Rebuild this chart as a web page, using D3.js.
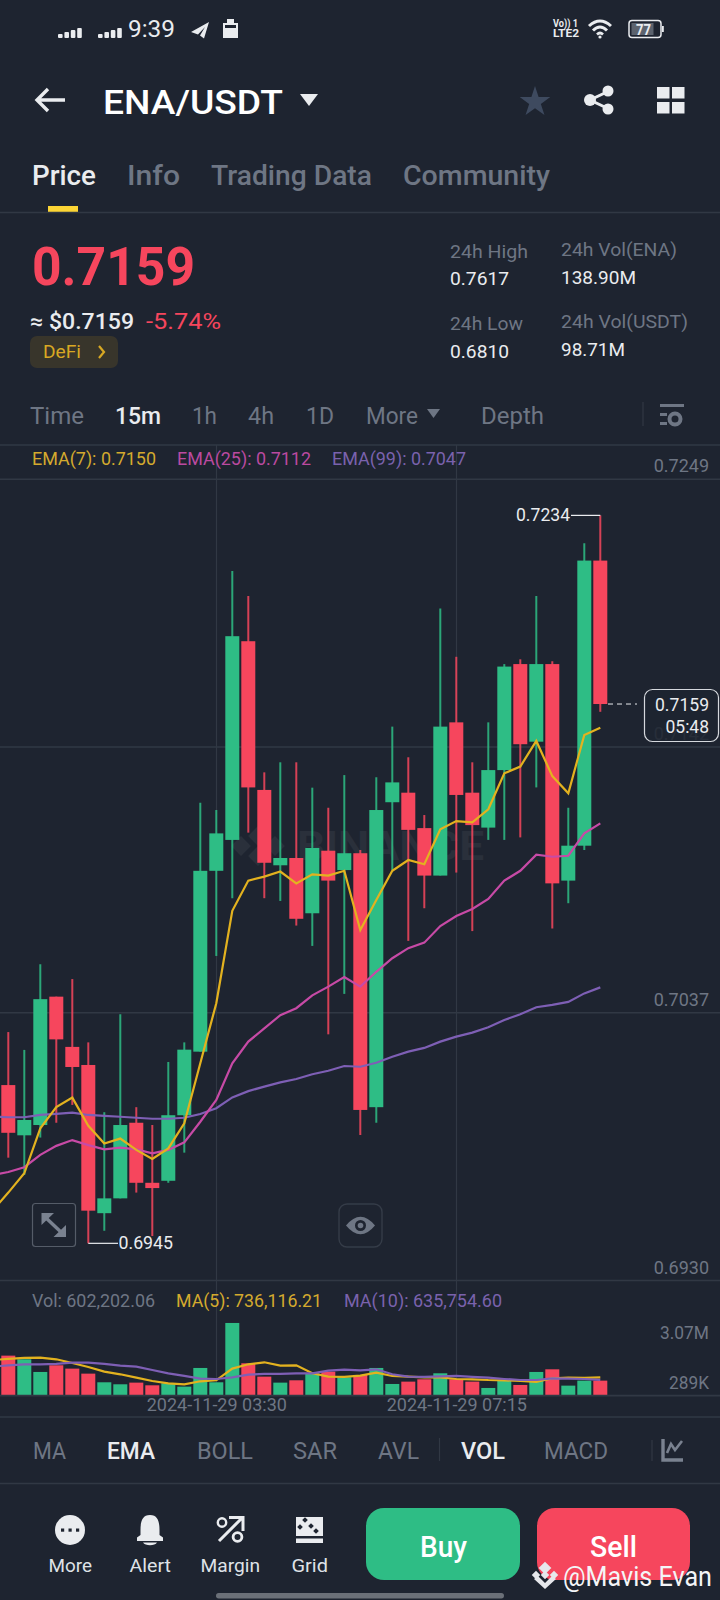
<!DOCTYPE html>
<html>
<head>
<meta charset="utf-8">
<script src="https://cdn.jsdelivr.net/npm/d3@7/dist/d3.min.js"></script>
<style>
  html, body { margin: 0; padding: 0; background: #1e2430; }
  svg { display: block; font-family: Roboto, sans-serif; }
</style>
</head>
<body>
<script>
// 15m candles, oldest first
const opens = [0.70076,0.69876,0.69917,0.70428,0.70228,0.70156,0.69566,0.69625,0.69926,0.69687,0.69695,0.69956,0.70209,0.70929,0.71052,0.71843,0.71251,0.70951,0.70980,0.70760,0.71009,0.70932,0.70999,0.69988,0.71202,0.71240,0.71099,0.70910,0.71520,0.71240,0.71101,0.71330,0.71752,0.71443,0.71752,0.70890,0.71029,0.72164];
const closes = [0.69886,0.69937,0.70418,0.70258,0.70148,0.69576,0.69625,0.69917,0.69687,0.69666,0.69956,0.70217,0.70929,0.71078,0.71863,0.71261,0.70961,0.70980,0.70738,0.71020,0.70890,0.70999,0.69977,0.71171,0.71281,0.71092,0.70910,0.71503,0.71231,0.71111,0.71330,0.71742,0.71433,0.71752,0.70879,0.71029,0.72164,0.71593];
const highs = [0.70287,0.70216,0.70557,0.70428,0.70498,0.70246,0.69968,0.70358,0.69988,0.69917,0.70168,0.70246,0.71200,0.71171,0.72123,0.72023,0.71321,0.71361,0.71361,0.71260,0.71180,0.71310,0.71012,0.71301,0.71503,0.71381,0.71151,0.71973,0.71781,0.71361,0.71520,0.71752,0.71771,0.72023,0.71763,0.71180,0.72233,0.72344];
const lows = [0.69787,0.69718,0.69867,0.69926,0.69997,0.69446,0.69496,0.69625,0.69648,0.69475,0.69687,0.69807,0.70209,0.70590,0.70820,0.71081,0.70820,0.70809,0.70711,0.70630,0.70278,0.70439,0.69877,0.69926,0.70932,0.70650,0.70780,0.70910,0.70922,0.70689,0.71052,0.71052,0.71062,0.71261,0.70699,0.70800,0.71012,0.71562];
const volumes = [1628000,1478000,958000,1231000,1095000,889000,534000,452000,520000,410000,493000,356000,1122000,534000,2969000,1314000,766000,520000,616000,903000,971000,739000,835000,1122000,465000,561000,657000,903000,657000,561000,301000,602000,424000,958000,1067000,397000,602000,602202];

// moving averages start one candle earlier, off the left edge
const ema7 = [0.69575,0.69648,0.69725,0.69904,0.69988,0.70026,0.69914,0.69843,0.69863,0.69818,0.69782,0.69824,0.69924,0.70163,0.70402,0.70770,0.70890,0.70906,0.70926,0.70879,0.70915,0.70910,0.70929,0.70693,0.70813,0.70929,0.70972,0.70955,0.71094,0.71127,0.71122,0.71174,0.71317,0.71344,0.71446,0.71306,0.71238,0.71470,0.71499];
const ema25 = [0.69718,0.69730,0.69749,0.69798,0.69834,0.69857,0.69837,0.69820,0.69827,0.69820,0.69804,0.69818,0.69848,0.69930,0.70017,0.70163,0.70249,0.70302,0.70354,0.70382,0.70433,0.70468,0.70506,0.70468,0.70527,0.70581,0.70621,0.70643,0.70709,0.70749,0.70777,0.70817,0.70890,0.70929,0.70993,0.70985,0.70989,0.71078,0.71118];
const ema99 = [0.69950,0.69948,0.69948,0.69957,0.69961,0.69966,0.69957,0.69953,0.69950,0.69946,0.69942,0.69942,0.69946,0.69961,0.69984,0.70027,0.70052,0.70070,0.70087,0.70100,0.70119,0.70133,0.70152,0.70149,0.70165,0.70189,0.70209,0.70224,0.70249,0.70269,0.70285,0.70306,0.70335,0.70358,0.70386,0.70395,0.70407,0.70441,0.70465];
const volMa5 = [1450,1491,1532,1546,1478,1327,1163,971,862,725,588,493,452,575,616,1095,1273,1355,1218,1231,903,766,753,807,930,794,766,739,739,670,657,629,616,588,547,698,725,712,736].map(d => d * 1000);
const volMa10 = [1177,1231,1273,1273,1286,1341,1341,1286,1218,1177,1040,903,794,684,670,739,848,876,876,903,903,1013,1054,1026,1067,862,766,753,780,794,753,725,670,629,629,698,684,670,636].map(d => d * 1000);

const priceTicks = [0.72490, 0.71424, 0.70366, 0.69300];
const dateTicks = [13, 28];
const dateLabels = {13: "2024-11-29 03:30", 28: "2024-11-29 07:15"};
const lastPrice = 0.71593;
const highMark = 0.72344, lowMark = 0.69446;
const volMax = 3070000;

const BG = "#1e2430", GREEN = "#2ebd85", RED = "#f6465d", LINE = "#313844";
const GREY = "#6e7684", WHITE = "#eaecef";
const YELLOW = "#e3b21f", PINK = "#c74aa6", PURPLE = "#7e5fb5";

const candles = opens.map((o, i) => ({i, o, c: closes[i], h: highs[i], l: lows[i], v: volumes[i]}));

const x = d3.scaleLinear().domain([0, 37]).range([8.3, 600.3]);
const y = d3.scaleLinear().domain([0.6930, 0.7249]).range([1280, 478.7]);
const yVol = d3.scaleLinear().domain([0, volMax]).range([1395.3, 1320.5]);
const bodyW = 14;
const color = d => d.c >= d.o ? GREEN : RED;

const svg = d3.select("body").append("svg").attr("width", 720).attr("height", 1600);
svg.append("rect").attr("width", 720).attr("height", 1600).attr("fill", BG);

// text helper, x0/x1 pin the width the label has in the screenshot
function txt(t, x0, x1, base, size, fill, weight) {
  const el = svg.append("text").attr("x", x0).attr("y", base).attr("font-size", size)
    .attr("fill", fill).attr("font-weight", weight || 400).text(t);
  if (x1) el.attr("textLength", x1 - x0).attr("lengthAdjust", "spacingAndGlyphs");
  return el;
}
function hline(yy, x0, x1, w) {
  svg.append("line").attr("x1", x0).attr("x2", x1).attr("y1", yy).attr("y2", yy)
    .attr("stroke", LINE).attr("stroke-width", w || 1.5);
}
function vline(xx, y0, y1, c) {
  svg.append("line").attr("x1", xx).attr("x2", xx).attr("y1", y0).attr("y2", y1)
    .attr("stroke", c || LINE).attr("stroke-width", 1.2);
}
const pth = (d, o) => {
  const p = svg.append("path").attr("d", d).attr("fill", o.fill || "none");
  if (o.stroke) p.attr("stroke", o.stroke).attr("stroke-width", o.w || 2);
  return p;
};

// ---- status bar
[58, 98].forEach(x0 => {
  [4, 6, 8, 10].forEach((h, i) => {
    svg.append("rect").attr("x", x0 + i * 6.4).attr("y", 38 - h).attr("width", 4.6).attr("height", h).attr("rx", 1).attr("fill", WHITE);
  });
});
txt("9:39", 128, 175, 37, 24, WHITE);
pth("M209 22 L191 32 L198 34.5 L205 27 L200 35.5 L204 38.5 Z", {fill: WHITE});
pth("M227 19 h7 v4 h4 v15 h-15 v-15 h4 Z", {fill: WHITE});
svg.append("rect").attr("x", 225).attr("y", 25).attr("width", 11).attr("height", 3).attr("fill", BG);
txt("Vo)) 1", 553, 578, 27, 10, WHITE, 700);
txt("LTE2", 553, 579, 37, 11, WHITE, 700);
pth("M589 26 Q600 16 611 26", {stroke: WHITE, w: 3});
pth("M593 30.5 Q600 23.5 607 30.5", {stroke: WHITE, w: 3});
pth("M597 34.5 Q600 31.5 603 34.5", {stroke: WHITE, w: 2.6});
svg.append("circle").attr("cx", 600).attr("cy", 37).attr("r", 1.6).attr("fill", WHITE);
svg.append("rect").attr("x", 629).attr("y", 20.5).attr("width", 32).attr("height", 17).attr("rx", 3).attr("fill", "none").attr("stroke", WHITE).attr("stroke-width", 1.5);
svg.append("rect").attr("x", 631.5).attr("y", 23).attr("width", 22).attr("height", 12).attr("fill", "#5c636e");
svg.append("rect").attr("x", 662).attr("y", 26).attr("width", 1.8).attr("height", 6).attr("fill", WHITE);
txt("77", 636, 651, 35, 15, WHITE, 700);

// ---- header
pth("M37 100 H65 M48 89 L37 100 L48 111", {stroke: WHITE, w: 3.4});
txt("ENA/USDT", 103, 283, 114, 33, "#ffffff", 500);
pth("M300 94 H318 L309 106 Z", {fill: WHITE});
svg.append("path").attr("d", d3.symbol(d3.symbolStar, 290)()).attr("transform", "translate(535,102)").attr("fill", "#3e4a5f");
pth("M609 91 L590 100 L609 109", {stroke: WHITE, w: 3});
[[608, 91, 5.5], [590, 100, 6], [608, 109, 5.5]].forEach(c => {
  svg.append("circle").attr("cx", c[0]).attr("cy", c[1]).attr("r", c[2]).attr("fill", WHITE);
});
[[657, 87], [672, 87], [657, 102], [672, 102]].forEach(c => {
  svg.append("rect").attr("x", c[0]).attr("y", c[1]).attr("width", 12.5).attr("height", 11.5).attr("fill", WHITE);
});

// ---- tabs
txt("Price", 32, 96, 185, 27, WHITE, 500);
txt("Info", 127, 180, 185, 27, GREY, 500);
txt("Trading Data", 211, 372, 185, 27, GREY, 500);
txt("Community", 403, 550, 185, 27, GREY, 500);
svg.append("rect").attr("x", 48).attr("y", 206).attr("width", 30).attr("height", 6).attr("fill", "#fcd535");
hline(212.5, 0, 720);

// ---- price summary
txt("0.7159", 32, 195, 285, 54, RED, 700);
txt("≈ $0.7159", 30, 134, 329, 22, WHITE, 500);
txt("-5.74%", 146, 221, 329, 22, RED);
svg.append("rect").attr("x", 30).attr("y", 336).attr("width", 88).attr("height", 32).attr("rx", 7).attr("fill", "#38352b");
txt("DeFi", 43, 81, 358, 19, "#d8a823");
pth("M99 346 L104 352 L99 358", {stroke: "#d8a823", w: 2.2});
txt("24h High", 450, 528, 258, 19, GREY);
txt("0.7617", 450, 509, 285, 19, WHITE);
txt("24h Vol(ENA)", 561, 677, 256, 19, GREY);
txt("138.90M", 561, 636, 284, 19, WHITE);
txt("24h Low", 450, 523, 330, 19, GREY);
txt("0.6810", 450, 509, 358, 19, WHITE);
txt("24h Vol(USDT)", 561, 688, 328, 19, GREY);
txt("98.71M", 561, 625, 356, 19, WHITE);

// ---- timeframe row
txt("Time", 30, 84, 424, 24, GREY);
txt("15m", 115, 161, 424, 24, WHITE, 500);
txt("1h", 192, 217, 424, 24, GREY);
txt("4h", 248, 274, 424, 24, GREY);
txt("1D", 306, 334, 424, 24, GREY);
txt("More", 366, 418, 424, 24, GREY);
pth("M427 409 H440 L433.5 418 Z", {fill: GREY});
txt("Depth", 481, 544, 424, 24, GREY);
vline(643, 402, 426);
svg.append("rect").attr("x", 660).attr("y", 404).attr("width", 24).attr("height", 3).attr("fill", GREY);
svg.append("rect").attr("x", 660).attr("y", 413).attr("width", 7).attr("height", 3).attr("fill", GREY);
svg.append("rect").attr("x", 660).attr("y", 422).attr("width", 7).attr("height", 3).attr("fill", GREY);
svg.append("circle").attr("cx", 675).attr("cy", 419).attr("r", 5.5).attr("fill", "none").attr("stroke", GREY).attr("stroke-width", 4);

// ---- chart frame
hline(445, 0, 720);
vline(216.5, 445, 1395);
vline(456.5, 445, 1395);

// faint logo behind the candles
const wm = "#2a303b";
[[258, 836, 6], [241, 846, 6], [275, 846, 6], [258, 856, 6]].forEach(c => {
  svg.append("rect").attr("x", c[0] - 7).attr("y", c[1] - 7).attr("width", 14).attr("height", 14)
    .attr("transform", `rotate(45 ${c[0]} ${c[1]})`).attr("fill", wm);
});
txt("BINANCE", 297, 484, 860, 40, wm, 700);

txt("EMA(7): 0.7150", 32, 156, 465, 18, "#d4aa2e");
txt("EMA(25): 0.7112", 177, 311, 465, 18, "#bb4aa0");
txt("EMA(99): 0.7047", 332, 466, 465, 18, "#7a62ad");

// price axis, gridlines come from the tick size
const priceAxis = d3.axisRight(y).tickValues(priceTicks).tickSize(720).tickPadding(0).tickFormat(d3.format(".4f"));
const axisG = svg.append("g").call(priceAxis);
axisG.select(".domain").remove();
axisG.selectAll("line").attr("stroke", LINE).attr("stroke-width", 1.5);
axisG.selectAll("text").attr("x", 709).attr("dy", "-7px").attr("text-anchor", "end")
  .attr("font-size", 18).attr("font-family", "Roboto, sans-serif").attr("fill", GREY);

// candles
const candleG = svg.append("g").selectAll("g").data(candles).join("g");
candleG.append("line")
  .attr("x1", d => x(d.i)).attr("x2", d => x(d.i))
  .attr("y1", d => y(d.h)).attr("y2", d => y(d.l))
  .attr("stroke", color).attr("stroke-opacity", 0.85).attr("stroke-width", 2);
candleG.append("rect")
  .attr("x", d => x(d.i) - bodyW / 2).attr("width", bodyW)
  .attr("y", d => y(Math.max(d.o, d.c)))
  .attr("height", d => Math.abs(y(d.o) - y(d.c)))
  .attr("fill", color);

// moving averages
const emaLine = d3.line().x((d, i) => x(i - 1)).y(d => y(d));
[[ema99, PURPLE], [ema25, PINK], [ema7, YELLOW]].forEach(s => {
  svg.append("path").attr("d", emaLine(s[0])).attr("fill", "none").attr("stroke", s[1]).attr("stroke-width", 2.2);
});

// high / low markers
svg.append("line").attr("x1", 571).attr("x2", x(37)).attr("y1", y(highMark)).attr("y2", y(highMark)).attr("stroke", WHITE).attr("stroke-width", 1.2);
txt(d3.format(".4f")(highMark), 516, 570, 520.5, 18, WHITE);
svg.append("line").attr("x1", x(5)).attr("x2", 118).attr("y1", y(lowMark)).attr("y2", y(lowMark)).attr("stroke", WHITE).attr("stroke-width", 1.2);
txt(d3.format(".4f")(lowMark), 118.5, 173, 1248.5, 18, WHITE);

// last price tag
svg.append("line").attr("x1", 608).attr("x2", 637).attr("y1", y(lastPrice)).attr("y2", y(lastPrice))
  .attr("stroke", WHITE).attr("stroke-width", 1).attr("stroke-dasharray", "5 4");
svg.append("rect").attr("x", 644.5).attr("y", 689.5).attr("width", 74).attr("height", 52).attr("rx", 8)
  .attr("fill", BG).attr("fill-opacity", 0.88).attr("stroke", "#d5d8dd").attr("stroke-width", 1.2);
txt(d3.format(".4f")(lastPrice), 655, 709, 710.5, 18, WHITE);
txt("05:48", 665.5, 709, 733, 18, WHITE);

// expand + eye buttons
svg.append("rect").attr("x", 32.5).attr("y", 1203.5).attr("width", 43).attr("height", 43).attr("rx", 3).attr("fill", "none").attr("stroke", "#555c68").attr("stroke-width", 1.2);
pth("M45 1217 L62 1233", {stroke: "#7a8290", w: 3.5});
pth("M41.5 1213 H54 L41.5 1225 Z M66 1237 H53.5 L66 1225 Z", {fill: "#7a8290"});
svg.append("rect").attr("x", 339).attr("y", 1204).attr("width", 43).attr("height", 43).attr("rx", 8).attr("fill", "none").attr("stroke", "#353c48").attr("stroke-width", 1.4);
pth("M346 1225.5 Q360.5 1208 375 1225.5 Q360.5 1243 346 1225.5 Z", {fill: "#6e7684"});
svg.append("circle").attr("cx", 360.5).attr("cy", 1225.5).attr("r", 5.5).attr("fill", BG);
svg.append("circle").attr("cx", 360.5).attr("cy", 1225.5).attr("r", 2.8).attr("fill", "#6e7684");

// ---- volume pane
txt("Vol: 602,202.06", 32, 155, 1306.5, 18, GREY);
txt("MA(5): 736,116.21", 176, 322, 1306.5, 18, "#d4aa2e");
txt("MA(10): 635,754.60", 344, 502, 1306.5, 18, "#7a62ad");
txt("3.07M", 660, 709, 1339, 18, GREY);
txt("289K", 669, 709, 1388.5, 18, GREY);

svg.append("g").selectAll("rect").data(candles).join("rect")
  .attr("x", d => x(d.i) - bodyW / 2).attr("width", bodyW)
  .attr("y", d => yVol(d.v))
  .attr("height", d => yVol(0) - yVol(d.v))
  .attr("fill", color);
const volLine = d3.line().x((d, i) => x(i - 1)).y(d => yVol(d)).curve(d3.curveLinear);
[[volMa5, YELLOW], [volMa10, PURPLE]].forEach(s => {
  svg.append("path").attr("d", volLine(s[0])).attr("fill", "none").attr("stroke", s[1]).attr("stroke-width", 2.2);
});
hline(1395.6, 0, 720, 1.8);

const dateAxis = d3.axisBottom(x).tickValues(dateTicks).tickSize(0).tickFormat(d => dateLabels[d]);
const dateG = svg.append("g").attr("transform", "translate(0,1395)").call(dateAxis);
dateG.select(".domain").remove();
dateG.selectAll("text").attr("y", 15.7).attr("dy", 0).attr("font-size", 18)
  .attr("font-family", "Roboto, sans-serif").attr("fill", GREY);
hline(1417, 0, 720);

// ---- indicator row
txt("MA", 33, 66, 1459, 24, GREY);
txt("EMA", 107, 155, 1459, 24, WHITE, 500);
txt("BOLL", 197, 253, 1459, 24, GREY);
txt("SAR", 293, 337, 1459, 24, GREY);
txt("AVL", 378, 419, 1459, 24, GREY);
vline(439.5, 1438, 1461);
txt("VOL", 461, 505, 1459, 24, WHITE, 500);
txt("MACD", 544, 608, 1459, 24, GREY);
vline(652, 1440, 1461);
pth("M663 1439 V1460 H683", {stroke: "#7a8290", w: 3.4});
pth("M667 1453 L671 1444 L675 1450 L682 1441", {stroke: "#7a8290", w: 2.6});
hline(1483.5, 0, 720);

// ---- bottom bar
svg.append("circle").attr("cx", 70).attr("cy", 1530).attr("r", 15).attr("fill", WHITE);
[61, 68.5, 76].forEach(xx => svg.append("rect").attr("x", xx).attr("y", 1528.5).attr("width", 3.2).attr("height", 3.2).attr("fill", BG));
pth("M150 1515 C142 1515 140.5 1522 140.5 1530 V1535 L137 1537.5 V1541 H163 V1537.5 L159.5 1535 V1530 C159.5 1522 158 1515 150 1515 Z", {fill: WHITE});
pth("M143 1542.5 H157 C155 1546 145 1546 143 1542.5 Z", {fill: WHITE});
pth("M219 1541 L242 1518 M229 1517.5 H243 V1531", {stroke: WHITE, w: 3});
svg.append("circle").attr("cx", 222).attr("cy", 1522.5).attr("r", 4.2).attr("fill", "none").attr("stroke", WHITE).attr("stroke-width", 2.4);
svg.append("circle").attr("cx", 237.5).attr("cy", 1537).attr("r", 4.4).attr("fill", "none").attr("stroke", WHITE).attr("stroke-width", 2.8);
pth("M296 1517 H323 V1536 H296 Z", {fill: WHITE});
[[305, 1520], [311, 1526], [316, 1531], [300, 1527]].forEach(c => {
  svg.append("rect").attr("x", c[0] - 2).attr("y", c[1] - 2).attr("width", 4).attr("height", 4).attr("transform", `rotate(45 ${c[0]} ${c[1]})`).attr("fill", BG);
});
svg.append("rect").attr("x", 296).attr("y", 1538.5).attr("width", 27).attr("height", 4.5).attr("fill", WHITE);

txt("More", 48.5, 92, 1572, 19, "#dfe2e7");
txt("Alert", 129.5, 171, 1572, 19, "#dfe2e7");
txt("Margin", 200.5, 260, 1572, 19, "#dfe2e7");
txt("Grid", 291.5, 328, 1572, 19, "#dfe2e7");

svg.append("rect").attr("x", 366).attr("y", 1508).attr("width", 154).attr("height", 72).attr("rx", 18).attr("fill", GREEN);
svg.append("rect").attr("x", 537).attr("y", 1508).attr("width", 153).attr("height", 72).attr("rx", 18).attr("fill", RED);
txt("Buy", 420, 467, 1557, 30, "#ffffff", 500);
txt("Sell", 590, 637, 1557, 30, "#ffffff", 500);

// repost watermark
[[545, 1568, 4.5], [536, 1575, 3], [554, 1575, 3], [545, 1575, 3]].forEach(c => {
  svg.append("rect").attr("x", c[0] - c[2]).attr("y", c[1] - c[2]).attr("width", c[2] * 2).attr("height", c[2] * 2)
    .attr("transform", `rotate(45 ${c[0]} ${c[1]})`).attr("fill", "#e6e8ec");
});
pth("M534 1579 L545 1589 L556 1579 L552 1576 L545 1583 L538 1576 Z", {fill: "#e6e8ec"});
txt("@Mavis Evan", 563, 712, 1586, 27, "#f4f5f7");

svg.append("rect").attr("x", 216).attr("y", 1593).attr("width", 288).attr("height", 5.5).attr("rx", 2.7).attr("fill", "#6b7078");
</script>
</body>
</html>
